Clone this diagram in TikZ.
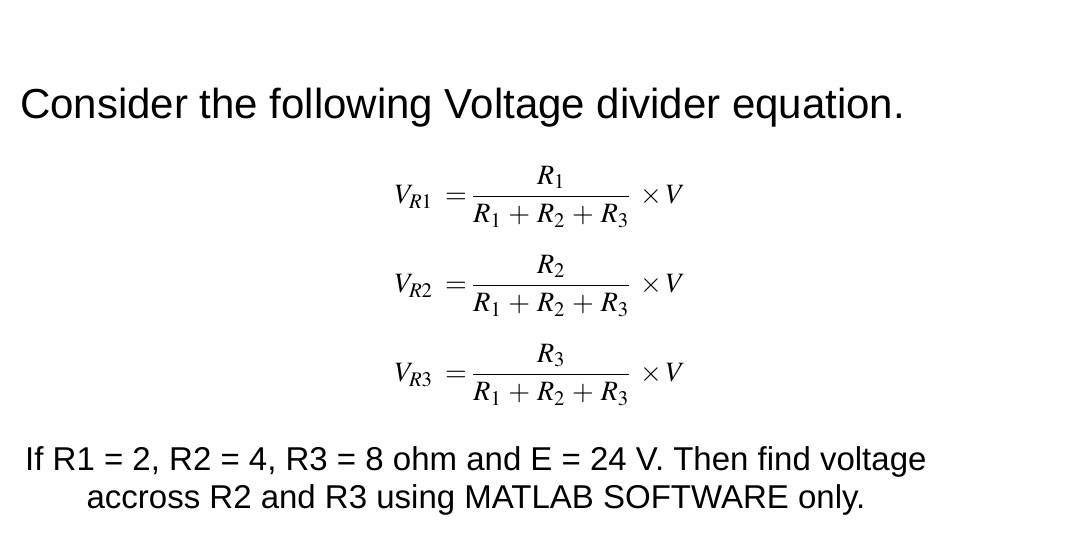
\documentclass[tikz,border=0pt]{standalone}
\usepackage{mathptmx}
\usepackage{fontspec}
\setmainfont{Liberation Sans}
\begin{document}
\begin{tikzpicture}[x=1pt,y=-1pt,
  txt/.style={inner sep=0pt,font=\fontsize{42}{46}\selectfont},
  eq/.style={inner sep=0pt,font=\fontsize{28}{32}\selectfont}]
\useasboundingbox (0,0) rectangle (1080,539);
\node[txt,anchor=base west] (title) at (20,118) {Consider the following Voltage divider equation.};
\foreach \i/\y in {1/197,2/286,3/375}{
  \node[eq,anchor=east] (v\i) at (467,\y) {$V_{R\i}\;=$};
  \node[eq,anchor=west] (f\i) at (472,\y) {$\displaystyle\frac{R_\i}{R_1\,+\,R_2\,+\,R_3}\;\times V$};
}
\node[txt,anchor=base west,font=\fontsize{33}{36}\selectfont] (l1) at (25,470) {If R1 = 2, R2 = 4, R3 = 8 ohm and E = 24 V. Then find voltage};
\node[txt,anchor=base,font=\fontsize{33}{36}\selectfont] (l2) at (476,508) {accross R2 and R3 using MATLAB SOFTWARE only.};
\end{tikzpicture}
\end{document}
